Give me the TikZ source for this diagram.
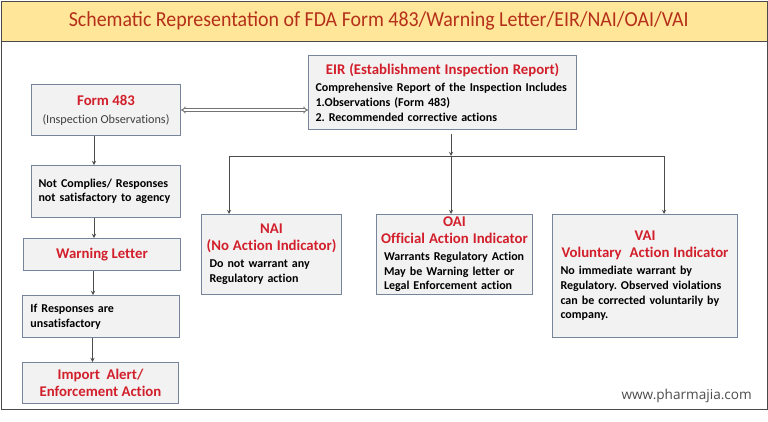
\documentclass[tikz,border=0pt]{standalone}
\usepackage{fontspec}
\setmainfont{Carlito}[Ligatures=CommonOff]
\newfontfamily\titlefont{Carlito}[FakeStretch=0.93]
\newfontfamily\webfont{Open Sans}
\usetikzlibrary{arrows.meta}
\definecolor{bandfill}{HTML}{FFE699}
\definecolor{titlered}{HTML}{B5301A}
\definecolor{headred}{HTML}{D21F2B}
\definecolor{boxfill}{HTML}{F2F2F2}
\definecolor{boxline}{HTML}{76859A}
\definecolor{frameline}{HTML}{4A4A4A}
\frenchspacing
\tikzset{
  panel/.style={draw=boxline, line width=1pt, fill=boxfill, inner sep=0pt, anchor=north west, font=\fontsize{12}{14.6}\selectfont\bfseries},
  head/.style={panel, text=headred, align=center, font=\fontsize{14.8}{17}\selectfont\bfseries},
  link/.style={draw=black!70, line width=0.9pt, ->, >=stealth}
}
\newcommand{\headline}[1]{\makebox[\linewidth]{\fontsize{14.8}{17}\selectfont\color{headred}#1}\\[2.4pt]}
\begin{document}
\begin{tikzpicture}[x=1pt, y=-1pt]
  \useasboundingbox (0,0) rectangle (768,421);

  % outer frame and title
  \node[draw=frameline, line width=1pt, anchor=north west, minimum width=766.5pt, minimum height=408.5pt, inner sep=0pt] (frame) at (0.5,0.5) {};
  \node[draw=frameline, line width=1pt, fill=bandfill, anchor=north west, minimum width=766.5pt, minimum height=40pt, inner sep=0pt, text=titlered, font=\titlefont\fontsize{21.4}{24}\selectfont] (band) at (0.5,0.5) {Schematic Representation of FDA Form 483/Warning Letter/EIR/NAI/OAI/VAI\rule{11pt}{0pt}};

  % left column
  \node[head, minimum width=149pt, minimum height=51pt] (form) at (31,84) {Form 483\\[1pt]{\fontsize{12.2}{14}\selectfont\mdseries\color{black!75}(Inspection Observations)}};
  \node[panel, minimum width=149pt, minimum height=52pt, text width=135pt, align=left] (comply) at (31,165) {Not Complies/ Responses\\not satisfactory to agency};
  \node[head, minimum width=157pt, minimum height=32pt] (warning) at (23,238) {Warning Letter};
  \node[panel, minimum width=157pt, minimum height=42pt, text width=141pt, align=left] (resp) at (22,295) {If Responses are\\unsatisfactory};
  \node[head, minimum width=156pt, minimum height=41pt] (alert) at (22,362) {Import\ \ Alert/\\Enforcement Action};

  % EIR
  \node[panel, minimum width=268pt, minimum height=74pt, text width=254pt, align=left] (eir) at (308,55) {\headline{EIR (Establishment Inspection Report)}Comprehensive Report of the Inspection Includes\\1.Observations (Form 483)\\2. Recommended corrective actions};

  % indicators
  \node[panel, minimum width=140pt, minimum height=80pt, text width=124pt, align=left] (nai) at (201,214) {\headline{NAI}\headline{(No Action Indicator)}Do not warrant any\\Regulatory action};
  \node[panel, minimum width=156pt, minimum height=80pt, text width=141pt, align=left] (oai) at (376,214) {\headline{OAI}\headline{Official Action Indicator}Warrants Regulatory Action\\May be Warning letter or\\Legal Enforcement action};
  \node[panel, minimum width=185pt, minimum height=123pt, text width=169pt, align=left] (vai) at (552,214) {\headline{VAI}\headline{Voluntary\ \ Action Indicator}No immediate warrant by\\Regulatory. Observed violations\\can be corrected voluntarily by\\company.};

  \node[anchor=east, text=black!70, font=\webfont\fontsize{13.6}{15}\selectfont, inner sep=0pt] (web) at (752,396) {www.pharmajia.com};

  % connectors
  \draw[draw=black!55, line width=0.9pt, double, double distance=1.4pt, {Implies}-{Implies}] (form.east) -- (eir.west |- form.east);
  \draw[link] (form.south -| 94,0) -- (comply.north -| 94,0);
  \draw[link] (comply.south -| 94,0) -- (warning.north -| 94,0);
  \draw[link] (warning.south -| 93,0) -- (resp.north -| 93,0);
  \draw[link] (resp.south -| 92.5,0) -- (alert.north -| 92.5,0);

  \coordinate (bus) at (451,156);
  \coordinate (busl) at (229,156);
  \coordinate (busr) at (664,156);
  \draw[link, shorten <=4pt] (eir.south -| bus) -- (bus);
  \draw[draw=black!70, line width=0.9pt] (busl) -- (busr);
  \draw[link] (busl) -- (busl |- nai.north);
  \draw[link] (bus) -- (bus |- oai.north);
  \draw[link] (busr) -- (busr |- vai.north);
\end{tikzpicture}
\end{document}
